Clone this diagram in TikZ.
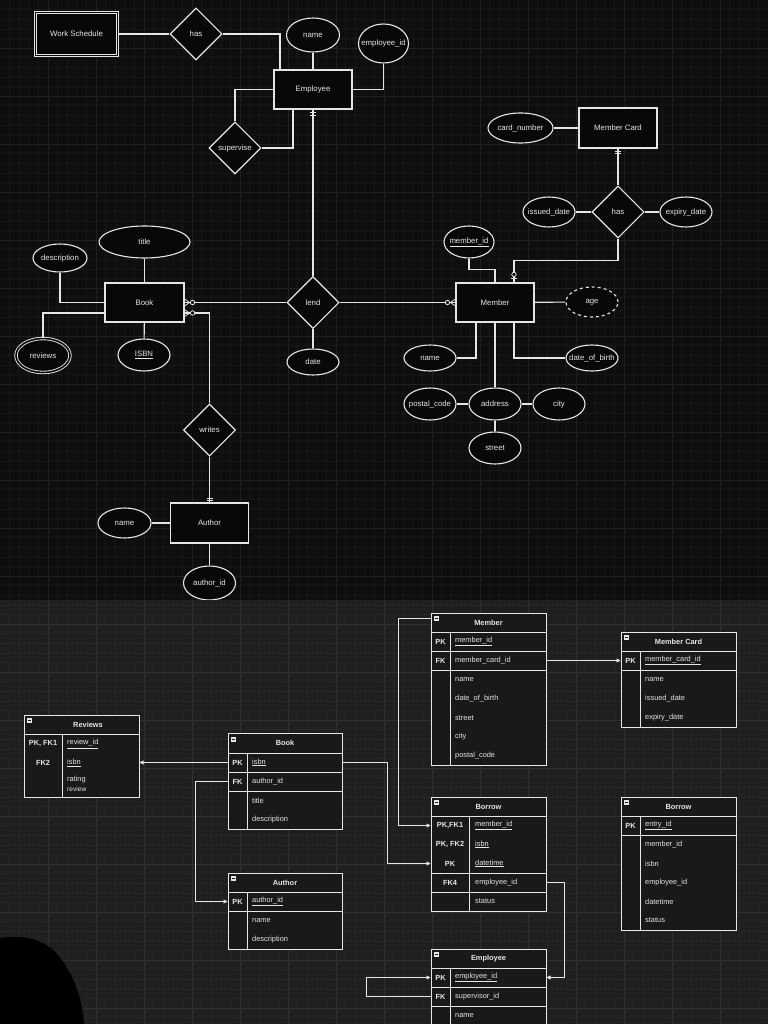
\documentclass[tikz,border=0pt]{standalone}
\usepackage{fontspec}
\setmainfont{Liberation Sans}
\usetikzlibrary{shapes.geometric,arrows.meta,calc}
\definecolor{fgc}{HTML}{E6E6E6}
\definecolor{topbg}{HTML}{0E0E0E}
\definecolor{topgrid}{HTML}{161616}
\definecolor{topgridmaj}{HTML}{202020}
\definecolor{botbg}{HTML}{1F1F1F}
\definecolor{botgrid}{HTML}{262626}
\definecolor{botgridmaj}{HTML}{303030}
\definecolor{entfill}{HTML}{080808}
\definecolor{tblfill}{HTML}{191919}
\newcommand{\erf}{\fontsize{7.8}{9}\selectfont}
\newcommand{\tf}{\fontsize{7.4}{8.5}\selectfont}
\newcommand{\tb}{\fontsize{7.4}{8.5}\selectfont\bfseries}
\tikzset{
  ent/.style={rectangle, draw=fgc, fill=entfill, line width=1.1pt, minimum width=78pt, minimum height=39pt, inner sep=0pt, font=\erf, text=fgc},
  attr/.style={ellipse, draw=fgc, fill=entfill, line width=1.1pt, inner sep=0pt, minimum width=52pt, minimum height=30pt},
  rel/.style={diamond, draw=fgc, fill=entfill, line width=1.1pt, inner sep=0pt, minimum width=52pt, minimum height=52pt},
  lbl/.style={font=\erf, text=fgc, inner sep=0pt},
  lnk/.style={draw=fgc, line width=1.1pt},
  mk/.style={draw=fgc, line width=0.8pt},
  tbl/.style={rectangle, draw=fgc, fill=tblfill, line width=1pt, inner sep=0pt},
  tline/.style={draw=fgc, line width=1pt},
  thead/.style={font=\tb, text=fgc, inner sep=0pt},
  tkey/.style={font=\tb, text=fgc, inner sep=0pt},
  tfld/.style={font=\tf, text=fgc, inner sep=0pt, anchor=west},
  ticon/.style={rectangle, fill=fgc, minimum size=5pt, inner sep=0pt,
     path picture={\draw[tblfill, line width=0.8pt] ($(path picture bounding box.west)+(1pt,0)$) -- ($(path picture bounding box.east)+(-1pt,0)$);}},
  arr/.style={draw=fgc, line width=0.9pt, -{Triangle[length=4pt,width=4pt]}},
}
\begin{document}
\begin{tikzpicture}[x=1pt,y=-1pt]
\useasboundingbox (0,0) rectangle (768,1024);
\clip (0,0) rectangle (768,1024);
% ---------- top panel background ----------
\fill[topbg] (0,0) rectangle (768,600);
\foreach \i in {1,...,79} {\draw[topgrid, line width=0.4pt] (\i*9.6,0) -- (\i*9.6,600);}
\foreach \j in {1,...,62} {\draw[topgrid, line width=0.4pt] (0,\j*9.6) -- (768,\j*9.6);}
\foreach \i in {5,10,...,75} {\draw[topgridmaj, line width=0.5pt] (\i*9.6,0) -- (\i*9.6,600);}
\foreach \j in {5,10,...,60} {\draw[topgridmaj, line width=0.5pt] (0,\j*9.6) -- (768,\j*9.6);}

% ---------- ER diagram ----------
\node[ent, double=entfill, double distance=1.8pt, line width=0.9pt, minimum width=82pt, minimum height=43pt] (ws) at (76.5,34) {Work Schedule};
\node[rel, label={[lbl]center:has}] (hasWS) at (196,34) {};
\node[attr, minimum width=53pt, minimum height=34pt, label={[lbl]center:name}] (empName) at (313,35) {};
\node[attr, minimum width=50pt, minimum height=39pt, label={[lbl]center:employee\_id}] (empId) at (383.5,43.5) {};
\node[ent] (emp) at (313,89.5) {Employee};
\node[rel, label={[lbl]center:supervise}] (sup) at (235,148) {};

\node[ent, minimum height=40pt] (mcard) at (618,128) {Member Card};
\node[attr, minimum width=65pt, label={[lbl]center:card\_number}] (cardNum) at (520.5,128) {};
\node[rel, label={[lbl]center:has}] (has2) at (618,212) {};
\node[attr, label={[lbl]center:issued\_date}] (issued) at (549,212) {};
\node[attr, label={[lbl]center:expiry\_date}] (expiry) at (686,212) {};
\node[attr, minimum width=50pt, minimum height=32pt, label={[lbl]center:{\underline{member\_id}}}] (memberId) at (469,242) {};

\node[ent] (member) at (495,302.5) {Member};
\node[attr, dashed, label={[lbl]center:age}] (age) at (592,302) {};
\node[attr, minimum height=26pt, label={[lbl]center:name}] (mName) at (430,358) {};
\node[attr, minimum height=26pt, label={[lbl]center:date\_of\_birth}] (dob) at (592,358) {};
\node[attr, minimum height=32pt, label={[lbl]center:address}] (address) at (495,404) {};
\node[attr, minimum height=32pt, label={[lbl]center:postal\_code}] (postal) at (430,404) {};
\node[attr, minimum height=32pt, label={[lbl]center:city}] (city) at (559,404) {};
\node[attr, minimum height=32pt, label={[lbl]center:street}] (street) at (495,448) {};

\node[rel, label={[lbl]center:lend}] (lend) at (313,302.5) {};
\node[attr, minimum height=26pt, label={[lbl]center:date}] (date) at (313,362) {};

\node[ent, minimum width=79pt] (book) at (144.5,302.5) {Book};
\node[attr, minimum width=91pt, minimum height=32pt, label={[lbl]center:title}] (title) at (144.5,242) {};
\node[attr, minimum width=54pt, minimum height=28pt, label={[lbl]center:description}] (desc) at (60,258) {};
\node[attr, double=entfill, double distance=1.6pt, line width=0.9pt, minimum width=54pt, minimum height=34pt, label={[lbl]center:reviews}] (reviews) at (43,355.5) {};
\node[attr, minimum height=32pt, label={[lbl]center:{\underline{ISBN}}}] (isbn) at (144,355) {};
\node[rel, label={[lbl]center:writes}] (writes) at (209.5,430) {};
\node[ent, minimum height=40pt] (author) at (209.5,523) {Author};
\node[attr, minimum width=53pt, label={[lbl]center:name}] (aName) at (124.5,523) {};
\node[attr, minimum height=34pt, label={[lbl]center:author\_id}] (aId) at (209.5,583) {};

% connectors
\draw[lnk] (ws) -- (hasWS);
\draw[lnk] (hasWS.east) -| ($(emp.north)+(-33,0)$);
\draw[lnk] (empName) -- (emp);
\draw[lnk] (empId.south) |- (emp.east);
\draw[lnk] (sup.north) |- (emp.west);
\draw[lnk] (sup.east) -| ($(emp.south)+(-20,0)$);
\draw[lnk] (emp) -- (lend);
\draw[lnk] (cardNum) -- (mcard);
\draw[lnk] (mcard) -- (has2);
\draw[lnk] (issued) -- (has2);
\draw[lnk] (has2) -- (expiry);
\draw[lnk] (has2.south) |- ($(member.north)+(19,-22)$) -- ($(member.north)+(19,0)$);
\draw[lnk] (memberId.south) |- ($(member.north)+(0,-13)$) -- (member.north);
\draw[lnk] (member) -- (age);
\draw[lnk] (mName.east) -| ($(member.south)+(-19,0)$);
\draw[lnk] ($(member.south)+(19,0)$) |- (dob.west);
\draw[lnk] (member) -- (address);
\draw[lnk] (postal) -- (address);
\draw[lnk] (address) -- (city);
\draw[lnk] (address) -- (street);
\draw[lnk] (lend) -- (member);
\draw[lnk] (book) -- (lend);
\draw[lnk] (lend) -- (date);
\draw[lnk] (title) -- (book);
\draw[lnk] (desc.south) |- (book.west);
\draw[lnk] (reviews.north) |- ($(book.west)+(0,10.5)$);
\draw[lnk] (book) -- (isbn);
\draw[lnk] ($(book.east)+(0,10.5)$) -| (writes.north);
\draw[lnk] (writes) -- (author);
\draw[lnk] (aName) -- (author);
\draw[lnk] (author) -- (aId);

% cardinality marks
\draw[mk] ($(emp.south)+(-3,3)$) -- ($(emp.south)+(3,3)$) ($(emp.south)+(-3,5.5)$) -- ($(emp.south)+(3,5.5)$);
\draw[mk] ($(mcard.south)+(-3,2.5)$) -- ($(mcard.south)+(3,2.5)$) ($(mcard.south)+(-3,5)$) -- ($(mcard.south)+(3,5)$);
\draw[mk] ($(author.north)+(-3,-2)$) -- ($(author.north)+(3,-2)$) ($(author.north)+(-3,-4.5)$) -- ($(author.north)+(3,-4.5)$);
\draw[mk] ($(member.north)+(16,-4)$) -- ($(member.north)+(22,-4)$);
\draw[mk, fill=topbg] ($(member.north)+(19,-8)$) circle (2.2pt);
\foreach \dy in {0,10.5} {
  \draw[mk] ($(book.east)+(5,\dy)$) -- ($(book.east)+(0,\dy-3.5)$) ($(book.east)+(5,\dy)$) -- ($(book.east)+(0,\dy+3.5)$);
  \draw[mk, fill=topbg] ($(book.east)+(8,\dy)$) circle (2.2pt);
}
\draw[mk] ($(member.west)+(-5,0)$) -- ($(member.west)+(0,-3.5)$) ($(member.west)+(-5,0)$) -- ($(member.west)+(0,3.5)$);
\draw[mk, fill=topbg] ($(member.west)+(-8,0)$) circle (2.2pt);

% ---------- bottom panel background ----------
\fill[botbg] (0,600) rectangle (768,1024);
\foreach \i in {1,...,79} {\draw[botgrid, line width=0.4pt] (\i*9.6,600) -- (\i*9.6,1024);}
\foreach \j in {63,...,106} {\draw[botgrid, line width=0.4pt] (0,\j*9.6) -- (768,\j*9.6);}
\foreach \i in {5,10,...,75} {\draw[botgridmaj, line width=0.5pt] (\i*9.6,600) -- (\i*9.6,1024);}
\foreach \j in {65,70,...,105} {\draw[botgridmaj, line width=0.5pt] (0,\j*9.6) -- (768,\j*9.6);}

% ---------- Member table ----------
\node[tbl, minimum width=115pt, minimum height=152pt] (tMember) at (488.5,689) {};
\draw[tline] (431,632) -- (546,632) (431,651) -- (546,651) (431,670) -- (546,670) (450,632) -- (450,765);
\node[thead] at (488.5,622.5) {Member};
\node[ticon] at (436.5,618.5) {};
\node[tkey] at (440.5,641.5) {PK};
\node[tfld] (mId) at (455,641.5) {\underline{member\_id}};
\node[tkey] at (440.5,660.5) {FK};
\node[tfld] (mCardId) at (455,660.5) {member\_card\_id};
\node[tfld] at (455,680) {name};
\node[tfld] at (455,699) {date\_of\_birth};
\node[tfld] at (455,718) {street};
\node[tfld] at (455,737) {city};
\node[tfld] at (455,756) {postal\_code};

% ---------- Member Card table ----------
\node[tbl, minimum width=115pt, minimum height=95pt] (tCard) at (678.5,679.5) {};
\draw[tline] (621,651) -- (736,651) (621,670) -- (736,670) (640,651) -- (640,727);
\node[thead] at (678.5,641.5) {Member Card};
\node[ticon] at (626.5,637.5) {};
\node[tkey] at (630.5,660.5) {PK};
\node[tfld] (cId) at (645,660.5) {\underline{member\_card\_id}};
\node[tfld] at (645,680) {name};
\node[tfld] at (645,699) {issued\_date};
\node[tfld] at (645,718) {expiry\_date};

% ---------- Reviews table ----------
\node[tbl, minimum width=115pt, minimum height=82pt] (tReviews) at (81.5,756) {};
\draw[tline] (24,734) -- (139,734) (62,734) -- (62,797);
\node[thead] at (88,724.5) {Reviews};
\node[ticon] at (29.5,720.5) {};
\node[tkey] at (43,744) {PK, FK1};
\node[tfld] (rId) at (67,744) {\underline{review\_id}};
\node[tkey] at (43,763) {FK2};
\node[tfld] (rIsbn) at (67,763) {\underline{isbn}};
\node[tfld] at (67,779.5) {rating};
\node[tfld, font=\fontsize{6.6}{7}\selectfont] at (67,789.5) {review};

% ---------- Book table ----------
\node[tbl, minimum width=114pt, minimum height=96pt] (tBook) at (285,781) {};
\draw[tline] (228,753) -- (342,753) (228,772) -- (342,772) (228,791) -- (342,791) (247,753) -- (247,829);
\node[thead] at (285,743) {Book};
\node[ticon] at (233.5,739.5) {};
\node[tkey] at (237.5,762.5) {PK};
\node[tfld] (bkIsbn) at (252,762.5) {\underline{isbn}};
\node[tkey] at (237.5,781.5) {FK};
\node[tfld] (bkAuthor) at (252,781.5) {author\_id};
\node[tfld] at (252,800.5) {title};
\node[tfld] at (252,819.5) {description};

% ---------- Author table ----------
\node[tbl, minimum width=114pt, minimum height=76pt] (tAuthor) at (285,911) {};
\draw[tline] (228,892) -- (342,892) (228,911) -- (342,911) (247,892) -- (247,949);
\node[thead] at (285,882.5) {Author};
\node[ticon] at (233.5,878.5) {};
\node[tkey] at (237.5,901.5) {PK};
\node[tfld] (aAuthorId) at (252,901.5) {\underline{author\_id}};
\node[tfld] at (252,920.5) {name};
\node[tfld] at (252,939.5) {description};

% ---------- Borrow table (middle) ----------
\node[tbl, minimum width=115pt, minimum height=114pt] (tBorrow) at (488.5,854) {};
\draw[tline] (431,816) -- (546,816) (431,873) -- (546,873) (431,892) -- (546,892) (469,816) -- (469,911);
\node[thead] at (488.5,806.5) {Borrow};
\node[ticon] at (436.5,802.5) {};
\node[tkey] at (450,825.5) {PK,FK1};
\node[tfld] (bMemberId) at (475,825.5) {\underline{member\_id}};
\node[tkey] at (450,844.5) {PK, FK2};
\node[tfld] (bIsbn) at (475,844.5) {\underline{isbn}};
\node[tkey] at (450,863.5) {PK};
\node[tfld] (bDatetime) at (475,863.5) {\underline{datetime}};
\node[tkey] at (450,882.5) {FK4};
\node[tfld] (bEmp) at (475,882.5) {employee\_id};
\node[tfld] at (475,901.5) {status};

% ---------- Borrow table (right) ----------
\node[tbl, minimum width=115pt, minimum height=133pt] (tBorrow2) at (678.5,863.5) {};
\draw[tline] (621,816) -- (736,816) (621,835) -- (736,835) (640,816) -- (640,930);
\node[thead] at (678.5,806.5) {Borrow};
\node[ticon] at (626.5,802.5) {};
\node[tkey] at (630.5,825.5) {PK};
\node[tfld] at (645,825.5) {\underline{entry\_id}};
\node[tfld] at (645,844.5) {member\_id};
\node[tfld] at (645,863.5) {isbn};
\node[tfld] at (645,882.5) {employee\_id};
\node[tfld] at (645,901.5) {datetime};
\node[tfld] at (645,920.5) {status};

% ---------- Employee table ----------
\node[tbl, minimum width=115pt, minimum height=111pt] (tEmp) at (488.5,1004.5) {};
\draw[tline] (431,968) -- (546,968) (431,987) -- (546,987) (431,1006) -- (546,1006) (450,968) -- (450,1060);
\node[thead] at (488.5,958.5) {Employee};
\node[ticon] at (436.5,954.5) {};
\node[tkey] at (440.5,977.5) {PK};
\node[tfld] (eEmpId) at (455,977.5) {\underline{employee\_id}};
\node[tkey] at (440.5,996.5) {FK};
\node[tfld] (eSup) at (455,996.5) {supervisor\_id};
\node[tfld] at (455,1015.5) {name};

% ---------- table connectors ----------
\draw[arr] (tMember.east |- mCardId) -- (tCard.west |- mCardId);
\draw[arr] ([yshift=-6pt]tMember.north west) -- ++(-32,0) |- (tBorrow.west |- bMemberId);
\draw[arr] (tBook.west |- bkIsbn) -- (tReviews.east |- bkIsbn);
\draw[arr] (tBook.east |- bkIsbn) -- ++(45,0) |- (tBorrow.west |- bDatetime);
\draw[arr] (tBook.west |- bkAuthor) -- ++(-32,0) |- (tAuthor.west |- aAuthorId);
\draw[arr] (tBorrow.east |- bEmp) -- ++(18,0) |- (tEmp.east |- eEmpId);
\draw[arr] (tEmp.west |- eSup) -- ++(-64,0) |- (tEmp.west |- eEmpId);

% ---------- dark blob bottom-left ----------
\fill[black] (0,938) .. controls (25,934) and (45,940) .. (58,955) .. controls (72,972) and (82,995) .. (84,1024) -- (0,1024) -- cycle;
\end{tikzpicture}
\end{document}
